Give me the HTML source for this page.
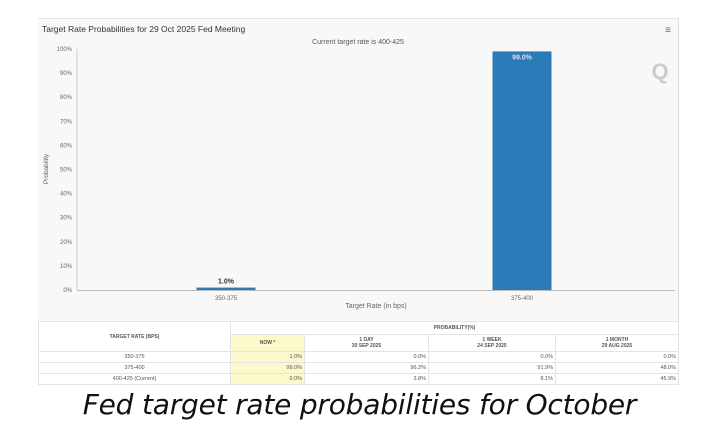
<!DOCTYPE html>
<html><head><meta charset="utf-8">
<style>
body{margin:0;width:719px;height:438px;background:#fff;overflow:hidden;font-family:"Liberation Sans",sans-serif;position:relative}
#card{position:absolute;left:38px;top:18px;width:640px;height:302px;background:#f8f8f8;border-top:1px solid #e6e6e6;border-right:1px solid #ddd}
#tbl{position:absolute;left:38px;top:321px;width:641px;border-collapse:collapse;font-size:5.5px;color:#555;background:#fff}
#tbl td,#tbl th{border:1px solid #e4e4e4;padding:0 2px;height:10px}
#tbl th{font-weight:bold;text-align:center;font-size:5px}
#tbl td.n{text-align:right}
#tbl td.c{text-align:center}
.y{background:#fbf9cc}
#cap{position:absolute;left:0;width:719px;top:388px;text-align:center;font-family:"DejaVu Sans",sans-serif;font-style:italic;font-size:28px;color:#111;letter-spacing:-0.2px;font-weight:300}
</style></head><body>
<div id="card">
<svg id="chart" width="640" height="302"></svg>
</div>
<table id="tbl">
<tr><th rowspan="2" style="width:187px;height:14px">TARGET RATE (BPS)</th><th colspan="4" style="height:12px">PROBABILITY(%)</th></tr>
<tr><th class="y" style="width:69px;height:16px">NOW *</th><th style="width:119px">1 DAY<br>30 SEP 2025</th><th style="width:122px">1 WEEK<br>24 SEP 2025</th><th>1 MONTH<br>29 AUG 2025</th></tr>
<tr><td class="c">350-375</td><td class="n y">1.0%</td><td class="n">0.0%</td><td class="n">0.0%</td><td class="n">0.0%</td></tr>
<tr><td class="c">375-400</td><td class="n y">99.0%</td><td class="n">96.2%</td><td class="n">91.9%</td><td class="n">48.0%</td></tr>
<tr><td class="c">400-425 (Current)</td><td class="n y">0.0%</td><td class="n">3.8%</td><td class="n">8.1%</td><td class="n">45.9%</td></tr>
</table>
<div id="cap">Fed target rate probabilities for October</div>
<script>
const categories=["350-375","375-400"];
const values=[1.0,99.0];
const ticks=[0,10,20,30,40,50,60,70,80,90,100];
const NS="http://www.w3.org/2000/svg";
const svg=document.getElementById("chart");
const Y0=271,Y1=30,PX0=40,PX1=632;
function y(v){return Y0-(Y0-Y1)*v/100;}
function xc(i){return PX0+(PX1-PX0)*(i+0.5)/categories.length;}
function el(t,a,txt){const e=document.createElementNS(NS,t);for(const k in a)e.setAttribute(k,a[k]);if(txt!==undefined)e.textContent=txt;svg.appendChild(e);return e;}
let e;
e=el("text",{x:4,y:13,"font-size":"8.5",fill:"#333"},"Target Rate Probabilities for 29 Oct 2025 Fed Meeting");

e=el("text",{x:320,y:25,"font-size":"7","text-anchor":"middle",fill:"#555"},"Current target rate is 400-425");

e=el("text",{x:630,y:14,"font-size":"10","text-anchor":"middle",fill:"#666"},"≡");

e=el("text",{x:622,y:60,"font-size":"22","text-anchor":"middle",fill:"#ccc","font-weight":"bold"},"Q");

ticks.forEach(t=>{
 e=el("text",{x:34,y:y(t)+2,"font-size":"6","text-anchor":"end",fill:"#666"},t+"%");
 
});
e=el("line",{x1:39,y1:Y1,x2:39,y2:Y0,stroke:"#ccc"});

e=el("line",{x1:39,y1:Y0+0.5,x2:637,y2:Y0+0.5,stroke:"#bbb"});

e=el("text",{x:10,y:150,"font-size":"6.5",fill:"#666","text-anchor":"middle",transform:"rotate(-90 10 150)"},"Probability");

e=el("text",{x:338,y:289,"font-size":"7","text-anchor":"middle",fill:"#666"},"Target Rate (in bps)");

const bw=59;
categories.forEach((c,i)=>{
 const cx=xc(i),top=y(values[i]);
 e=el("rect",{x:cx-bw/2,y:top,width:bw,height:Y0-top,fill:"#2b7bb9"});
 
 const big=values[i]>10;
 e=el("text",{x:cx,y:big?top+8:top-4,"font-size":"7","text-anchor":"middle",fill:big?"#dde":"#333","font-weight":"bold"},values[i].toFixed(1)+"%");
 
 e=el("text",{x:cx,y:Y0+10,"font-size":"6","text-anchor":"middle",fill:"#666"},c);
 
});
</script>
</body></html>
